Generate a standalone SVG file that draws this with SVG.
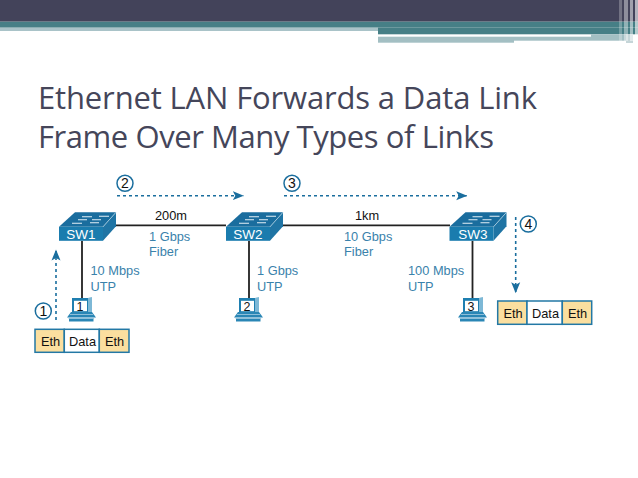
<svg xmlns="http://www.w3.org/2000/svg" width="638" height="478" viewBox="0 0 638 478">
<style>
.title{font-family:"Open Sans","DejaVu Sans",sans-serif;font-size:31px;fill:#45465a}
.lbl{font-family:"Liberation Sans",Arial,sans-serif;font-size:12.8px;fill:#3a82ab}
.blk{font-family:"Liberation Sans",Arial,sans-serif;font-size:12.8px;fill:#111}
.sw{font-family:"Liberation Sans",Arial,sans-serif;font-size:13.5px;fill:#fff;text-anchor:middle}
.num{font-family:"Liberation Sans",Arial,sans-serif;font-size:14px;fill:#111;text-anchor:middle}
.pcn{font-family:"Liberation Sans",Arial,sans-serif;font-size:12.5px;fill:#111;text-anchor:middle}
.dash{fill:none;stroke:#1a6e9e;stroke-width:1.6;stroke-dasharray:3 3}
.link{fill:none;stroke:#222;stroke-width:1.8}
.eth{fill:#fbdf9f;stroke:#2378a5;stroke-width:1.5}
.data{fill:#fff;stroke:#2378a5;stroke-width:1.5}
.circ{fill:#fff;stroke:#1a6e9e;stroke-width:1.5}
</style>
<defs>
<marker id="ah" markerWidth="12" markerHeight="10" refX="10.500" refY="5" orient="auto" markerUnits="userSpaceOnUse"><path d="M0 0.500L11 5L0 9.500L2.500 5Z" fill="#1a6e9e"/></marker>
<g id="swi">
<path d="M0 14.500L16 0H57L44 14.500Z" fill="#1a6d9e"/>
<path d="M44 14.500L57 0V14L44 28.500Z" fill="#1f74a4"/>
<rect x="0" y="14.500" width="44" height="14" fill="#1a7cae"/>
<path d="M44 14.500L57 0" stroke="#bcd9e8" stroke-width=".7" fill="none"/>
<path d="M23 4.500H33M40 4H50M13 11H23M31 10.500H40M19 7.500H28M33 7.500H42" stroke="#e4f0f6" stroke-width="1.100" fill="none"/>
</g>
<g id="pc">
<path d="M5 1H21L25 .5V15H5Z" fill="#1f7fb0"/>
<path d="M21 1L25 .5V15H21Z" fill="#7db8d6"/>
<rect x="7" y="3.800" width="13" height="10.400" fill="#fff"/>
<path d="M4 15H25L29 20.500H0Z" fill="#2a86b5"/>
<path d="M3 17.500H26" stroke="#a6cde2" stroke-width=".8"/>
<path d="M1 20.500H28L26.500 22H2Z" fill="#8fc0da"/>
<path d="M2 22H26.500V24.500H2Z" fill="#2a86b5"/>
</g>
</defs>
<rect width="638" height="478" fill="#fff"/>
<g id="header">
<rect x="0" y="0" width="638" height="21.700" fill="#43435a"/>
<rect x="0" y="21.700" width="638" height="6" fill="#467f86"/>
<rect x="0" y="27.700" width="378" height="3.300" fill="#a9c3c8"/>
<rect x="378" y="27.700" width="260" height="6.600" fill="#467f86"/>
<rect x="591" y="34.300" width="35" height="6.400" fill="#a3bfc3"/>
<rect x="378" y="36.700" width="136" height="6" fill="#a3bfc3"/>
<rect x="514" y="36.700" width="77" height="4" fill="#a3bfc3"/>
<rect x="626" y="34.300" width="7" height="8.700" fill="#c5d5d8"/>
<rect x="619" y="0" width="3" height="41" fill="#fff" opacity=".25"/>
<rect x="624" y="0" width="4" height="41" fill="#fff" opacity=".4"/>
<rect x="630" y="0" width="3" height="41" fill="#fff" opacity=".5"/>
<rect x="635" y="0" width="3" height="41" fill="#fff" opacity=".6"/>
</g>
<g id="title">
<text class="title" x="38" y="109.300" textLength="499" lengthAdjust="spacing">Ethernet LAN Forwards a Data Link</text>
<text class="title" x="38" y="147.700" textLength="456" lengthAdjust="spacing">Frame Over Many Types of Links</text>
</g>
<g id="connectors">
<path class="link" d="M116 225.400H226M283 225.400H450M82 241V298M249 241V298M472.500 241V298"/>
<path class="dash" d="M56 320V250" marker-end="url(#ah)"/>
<path class="dash" d="M117 195.700H243.300" marker-end="url(#ah)"/>
<path class="dash" d="M284 195.700H466.700" marker-end="url(#ah)"/>
<path class="dash" d="M515.700 217V292.700" marker-end="url(#ah)"/>
</g>
<g id="sw1"><use href="#swi" x="59" y="212.300"/><text class="sw" x="81" y="239">SW1</text></g>
<g id="sw2"><use href="#swi" x="226" y="212.300"/><text class="sw" x="248" y="239">SW2</text></g>
<g id="sw3"><use href="#swi" x="449.500" y="212.300"/><text class="sw" x="473" y="239">SW3</text></g>
<g id="pc1"><use href="#pc" x="67" y="297"/><text class="pcn" x="80" y="310.500">1</text></g>
<g id="pc2"><use href="#pc" x="234" y="297"/><text class="pcn" x="247" y="310.500">2</text></g>
<g id="pc3"><use href="#pc" x="458" y="297"/><text class="pcn" x="471" y="310.500">3</text></g>
<g id="step1"><circle class="circ" cx="43.300" cy="311" r="8"/><text class="num" x="43.300" y="316">1</text></g>
<g id="step2"><circle class="circ" cx="125" cy="183.300" r="8"/><text class="num" x="125" y="188.300">2</text></g>
<g id="step3"><circle class="circ" cx="292" cy="183.300" r="8"/><text class="num" x="292" y="188.300">3</text></g>
<g id="step4"><circle class="circ" cx="528.300" cy="224" r="8"/><text class="num" x="528.300" y="229">4</text></g>
<g id="labels">
<text class="blk" x="155" y="220">200m</text>
<text class="blk" x="355" y="220">1km</text>
<text class="lbl" x="149" y="240.500">1 Gbps</text><text class="lbl" x="149" y="255.500">Fiber</text>
<text class="lbl" x="344" y="240.500">10 Gbps</text><text class="lbl" x="344" y="255.500">Fiber</text>
<text class="lbl" x="90.500" y="275.300">10 Mbps</text><text class="lbl" x="90.500" y="290.500">UTP</text>
<text class="lbl" x="257" y="275.300">1 Gbps</text><text class="lbl" x="257" y="290.500">UTP</text>
<text class="lbl" x="408" y="275.300">100 Mbps</text><text class="lbl" x="408" y="290.500">UTP</text>
</g>
<g id="frame1">
<rect class="eth" x="35" y="329.300" width="29.300" height="23"/><rect class="data" x="64.300" y="329.300" width="35" height="23"/><rect class="eth" x="99.300" y="329.300" width="29.700" height="23"/>
<text class="blk" x="41" y="345.700">Eth</text><text class="blk" x="69" y="345.700">Data</text><text class="blk" x="105" y="345.700">Eth</text>
</g>
<g id="frame2">
<rect class="eth" x="497.700" y="301" width="29.300" height="23.300"/><rect class="data" x="527" y="301" width="35.300" height="23.300"/><rect class="eth" x="562.300" y="301" width="29.400" height="23.300"/>
<text class="blk" x="503.500" y="317.500">Eth</text><text class="blk" x="532" y="317.500">Data</text><text class="blk" x="568" y="317.500">Eth</text>
</g>
</svg>
